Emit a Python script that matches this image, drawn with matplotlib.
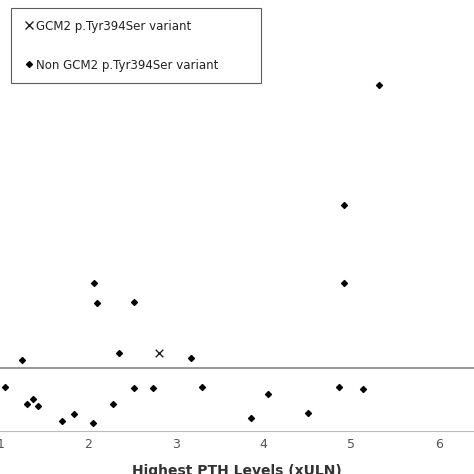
import matplotlib.pyplot as plt
from matplotlib.lines import Line2D

# estimated values (y axis unlabeled, horizontal line at 1)
non_x = [1.05, 1.24, 1.30, 1.37, 1.42, 1.70, 1.83, 2.05, 2.28, 2.35, 2.52, 2.74, 3.17, 3.30,
         3.85, 4.05, 4.50, 4.86, 5.13, 2.06, 2.10, 2.52, 4.92, 4.92, 5.32]
non_y = [0.71, 1.13, 0.44, 0.51, 0.40, 0.17, 0.27, 0.14, 0.43, 1.24, 0.68, 0.68, 1.17, 0.70,
         0.21, 0.60, 0.29, 0.70, 0.67, 2.35, 2.03, 2.05, 3.59, 2.36, 5.49]
var_x = [2.80]
var_y = [1.24]

fig = plt.figure(figsize=(4.74, 4.74), dpi=100)
ax = fig.add_axes([0.0, 0.09, 1.0, 0.91])
ax.scatter(non_x, non_y, marker='D', s=9, color='black', zorder=3)
ax.scatter(var_x, var_y, marker='x', s=30, color='#222222', linewidths=1.0, zorder=3)
ax.axhline(1.0, color='#888888', lw=1.2)
ax.set_xlim(0.99, 6.4)
ax.set_ylim(0, 6.84)
ax.set_xticks([1, 2, 3, 4, 5, 6])
ax.tick_params(axis='x', length=0, labelsize=9, labelcolor='#555555', pad=5)
ax.set_yticks([])
for s in ['top', 'right', 'left']:
    ax.spines[s].set_visible(False)
ax.spines['bottom'].set_color('#bbbbbb')
ax.set_xlabel('Highest PTH Levels (xULN)', fontsize=10, fontweight='bold', color='#333333', labelpad=9)

handles = [Line2D([], [], marker='x', ls='', color='#222222', markersize=6),
           Line2D([], [], marker='D', ls='', color='black', markersize=3)]
leg = fig.legend(handles, ['GCM2 p.Tyr394Ser variant', 'Non GCM2 p.Tyr394Ser variant'],
                 loc='upper left', bbox_to_anchor=(0.011, 0.82, 0.553, 0.176), mode='expand',
                 fontsize=8.5, frameon=True, fancybox=False, edgecolor='#333333',
                 labelspacing=2.2, handletextpad=0.1, handlelength=1.0, borderpad=1.0)
leg.get_frame().set_linewidth(0.8)
for t in leg.get_texts():
    t.set_color('#222222')
fig.savefig('out.png', dpi=100)
